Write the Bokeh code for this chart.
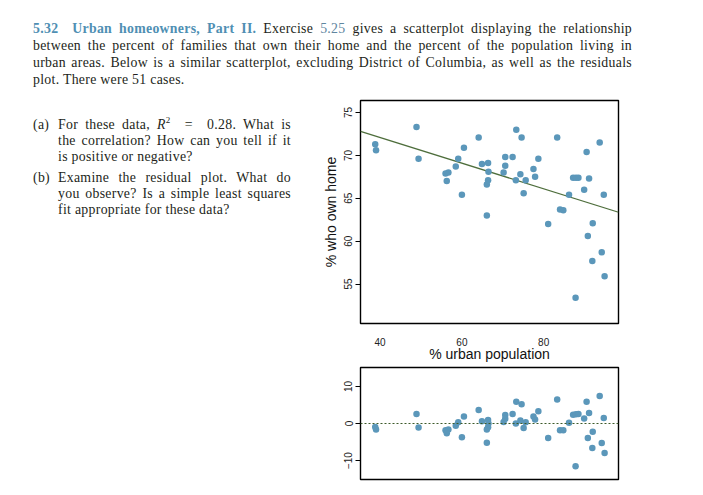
import numpy as np
from bokeh.plotting import figure
from bokeh.models import Div, FixedTicker, Span, Range1d, ColumnDataSource
from bokeh.layouts import column, row
from bokeh.embed import file_html
from bokeh.resources import INLINE

# ---- data ----
urban = [38.8, 39.0, 48.9, 49.4, 56.0, 56.7, 56.3, 58.5, 59.1, 60.5,
         60.0, 64.1, 64.9, 66.4, 66.5, 66.4, 66.1, 66.1, 70.6, 70.6,
         70.2, 72.4, 73.3, 74.6, 74.3, 73.2, 75.6, 75.1, 77.5, 77.9,
         78.7, 83.3, 84.0, 84.8, 86.2, 87.2, 87.9, 88.5, 89.9, 90.5,
         91.1, 93.7, 94.7, 81.1, 92.0, 90.8, 94.2, 91.9, 94.9, 87.8]
own_home = [71.3, 70.6, 73.3, 69.6, 67.9, 68.0, 67.0, 68.7, 69.6, 70.9,
            65.4, 72.1, 69.0, 69.1, 68.1, 67.1, 66.6, 63.0, 69.8, 68.8,
            68.0, 69.8, 73.0, 72.1, 67.8, 67.1, 67.1, 65.6, 68.4, 67.5,
            69.6, 72.1, 63.7, 63.6, 65.4, 67.4, 67.4, 67.4, 66.0, 70.4,
            67.3, 71.5, 65.4, 62.0, 62.1, 60.6, 58.7, 57.7, 55.9, 53.4]
x_ticks = [40, 60, 80]
y_ticks = [55, 60, 65, 70, 75]
resid_ticks = [-10, 0, 10]
x_label = "% urban population"
y_label = "% who own home"

x = np.array(urban)
y = np.array(own_home)
slope, intercept = np.polyfit(x, y, 1)
resid = y - (intercept + slope * x)

DOT = "#5b97ba"
LINE = "#4e6e3c"
X0, X1 = 35.2, 98.3

def style(p):
    p.xgrid.visible = False
    p.ygrid.visible = False
    p.outline_line_color = "black"
    p.outline_line_width = 1.4
    p.background_fill_color = "white"
    p.border_fill_color = "white"
    for ax in p.yaxis:
        ax.axis_line_color = None
        ax.major_tick_out = 5
        ax.major_tick_in = 0
        ax.minor_tick_out = 0
        ax.minor_tick_in = 0
        ax.major_tick_line_color = "black"
        ax.major_label_orientation = "vertical"
        ax.major_label_standoff = 3
        ax.major_label_text_font = "Liberation Sans"
        ax.major_label_text_font_size = "10px"
        ax.major_label_text_color = "#222222"

# ---- main scatter ----
p1 = figure(width=316, height=274, x_range=Range1d(X0, X1), y_range=Range1d(50.4, 76.4),
            output_backend="svg", toolbar_location=None,
            min_border_left=48, min_border_right=10, min_border_top=10, min_border_bottom=34)
style(p1)
p1.xaxis.ticker = FixedTicker(ticks=x_ticks)
p1.yaxis.ticker = FixedTicker(ticks=y_ticks)
p1.xaxis.axis_line_color = None
p1.xaxis.major_tick_out = 0
p1.xaxis.major_tick_in = 0
p1.xaxis.minor_tick_out = 0
p1.xaxis.minor_tick_in = 0
p1.xaxis.major_label_standoff = 14
p1.xaxis.major_label_text_font = "Liberation Sans"
p1.xaxis.major_label_text_font_size = "10px"
p1.xaxis.major_label_text_color = "#222222"
p1.xaxis.axis_label = x_label
p1.xaxis.axis_label_standoff = -3
p1.xaxis.axis_label_text_font = "Liberation Sans"
p1.xaxis.axis_label_text_font_size = "14px"
p1.xaxis.axis_label_text_font_style = "normal"
p1.xaxis.axis_label_text_color = "#111111"
p1.yaxis.axis_label = y_label
p1.yaxis.axis_label_standoff = 3
p1.yaxis.axis_label_text_font = "Liberation Sans"
p1.yaxis.axis_label_text_font_size = "14px"
p1.yaxis.axis_label_text_font_style = "normal"
p1.yaxis.axis_label_text_color = "#111111"

fit_src = ColumnDataSource(dict(x=[X0, X1], y=[intercept + slope * X0, intercept + slope * X1]))
p1.line("x", "y", source=fit_src, line_color=LINE, line_width=1.3)
p1.scatter(x, y, size=6.5, fill_color=DOT, line_color=None)

# ---- residuals ----
p2 = figure(width=316, height=123, x_range=Range1d(X0, X1), y_range=Range1d(-15.1, 15.1),
            output_backend="svg", toolbar_location=None,
            min_border_left=48, min_border_right=10, min_border_top=3, min_border_bottom=8)
style(p2)
p2.xaxis.visible = False
p2.yaxis.ticker = FixedTicker(ticks=resid_ticks)
p2.add_layout(Span(location=0, dimension="width", line_color="#3d5a2a",
                   line_dash="2 2", line_width=1.2))
p2.scatter(x, resid, size=6.5, fill_color=DOT, line_color=None)

# ---- texts ----
FONT = ("font-family:'Liberation Serif',serif;font-size:13.8px;color:#231f20;"
        "letter-spacing:0.3px;")
J = "text-align:justify;text-align-last:justify;white-space:nowrap;"
top_html = (
    f"<div style=\"{FONT}line-height:17px;width:599px;margin-left:25px;padding-top:12px;\">"
    f"<div style=\"{J}\"><span style=\"color:#4f8fb3;font-weight:bold;\">5.32&nbsp;&nbsp;Urban homeowners, Part II.</span>"
    " Exercise <span style=\"color:#5f86a0;\">5.25</span> gives a scatterplot displaying the relationship</div>"
    f"<div style=\"{J}\">between the percent of families that own their home and the percent of the population living in</div>"
    f"<div style=\"{J}\">urban areas. Below is a similar scatterplot, excluding District of Columbia, as well as the residuals</div>"
    "<div>plot. There were 51 cases.</div>"
    "</div>"
)
top_div = Div(text=top_html, width=687, height=82, margin=0)

def item(label, lines, extra_top):
    body = "".join(f"<div style=\"{J}\">{ln}</div>" for ln in lines[:-1])
    body += f"<div>{lines[-1]}</div>"
    return (f"<div style=\"display:flex;margin-top:{extra_top}px;\">"
            f"<div style=\"width:25px;flex:none;\">{label}</div>"
            f"<div style=\"width:233px;flex:none;\">{body}</div></div>")

left_html = (
    f"<div style=\"{FONT}line-height:16px;margin-left:25px;padding-top:27px;\">"
    + item("(a)", ["For these data, <i>R</i><sup style=\"font-size:9px;line-height:0;\">2</sup> &nbsp;=&nbsp; 0.28. What is",
                   "the correlation? How can you tell if it",
                   "is positive or negative?"], 0)
    + item("(b)", ["Examine the residual plot. What do",
                   "you observe? Is a simple least squares",
                   "fit appropriate for these data?"], 5)
    + "</div>"
)
left_div = Div(text=left_html, width=304, height=397, margin=0)

layout = column(top_div, row(left_div, column(p1, p2, spacing=0), spacing=0),
                spacing=0, margin=(8, 0, 0, 8))

open("out.html", "w").write(file_html(layout, INLINE))
